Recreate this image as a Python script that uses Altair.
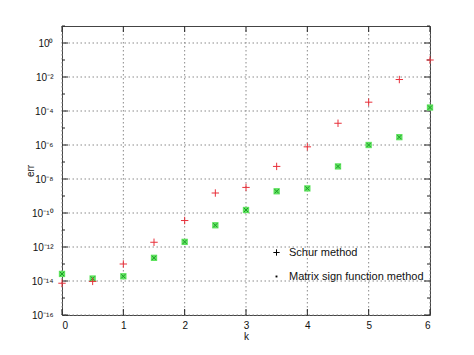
import altair as alt
import pandas as pd

k_values = [0, 0.5, 1, 1.5, 2, 2.5, 3, 3.5, 4, 4.5, 5, 5.5, 6]
err_schur = [7.4e-15, 9.5e-15, 1.0e-13, 1.9e-12, 3.6e-11, 1.5e-9, 3.2e-9,
             5.5e-8, 7.8e-7, 1.9e-5, 3.3e-4, 7.1e-3, 1.0e-1]
err_sign = [2.6e-14, 1.4e-14, 1.9e-14, 2.3e-13, 2.0e-12, 1.9e-11, 1.5e-10,
            1.9e-9, 2.8e-9, 5.5e-8, 1.0e-6, 2.9e-6, 1.6e-4]
methods = ["Schur method", "Matrix sign function method"]

x_ticks = [0, 1, 2, 3, 4, 5, 6]
y_major = [1e-16, 1e-14, 1e-12, 1e-10, 1e-8, 1e-6, 1e-4, 1e-2, 1e0]
y_minor = [1e-15, 1e-13, 1e-11, 1e-9, 1e-7, 1e-5, 1e-3, 1e-1, 1e1]
y_labels = ["10⁻¹⁶", "10⁻¹⁴", "10⁻¹²", "10⁻¹⁰", "10⁻⁸", "10⁻⁶", "10⁻⁴", "10⁻²", "10⁰"]

W, H = 368, 289
FONT = "Liberation Sans"

long = pd.DataFrame({
    "k": k_values * 2,
    "err": err_schur + err_sign,
})
schur_df = pd.DataFrame({"k": k_values, "err": err_schur})
sign_df = pd.DataFrame({"k": k_values, "err": err_sign})
leg_df = pd.DataFrame({"method": methods})

expr = ""
for v, lab in zip(y_major, y_labels):
    expr += f"datum.value < {v * 3.0} ? '{lab}' : "
expr += "''"

xs = alt.Scale(domain=[0, 6], nice=False, zero=False)
ys = alt.Scale(type="log", domain=[1e-16, 10], nice=False)

base = alt.Chart(long).mark_point(opacity=0).encode(
    x=alt.X("k:Q", scale=xs,
            axis=alt.Axis(values=x_ticks, title="k", grid=False, tickSize=0,
                          domain=False, labelPadding=5, titlePadding=1,
                          format="d")),
    y=alt.Y("err:Q", scale=ys,
            axis=alt.Axis(values=y_major, title="err", grid=False, tickSize=0,
                          domain=False, labelPadding=9, titlePadding=-4,
                          labelExpr=expr)),
)

ymaj = pd.DataFrame({"v": y_major})
ymin = pd.DataFrame({"v": y_minor})
xt = pd.DataFrame({"v": x_ticks})

grid_style = dict(color="#8a8a8a", strokeWidth=1, strokeDash=[1.5, 2.5])
grids = [
    alt.Chart(ymaj).mark_rule(**grid_style).encode(y=alt.Y("v:Q", scale=ys)),
    alt.Chart(xt).mark_rule(**grid_style).encode(x=alt.X("v:Q", scale=xs)),
]

tick_color = "#222"
ticks = []
for df, L in [(ymaj, 6), (ymin, 3)]:
    ticks.append(alt.Chart(df).mark_rule(color=tick_color, strokeWidth=1).encode(
        y=alt.Y("v:Q", scale=ys), x=alt.value(0), x2=alt.value(L)))
    ticks.append(alt.Chart(df).mark_rule(color=tick_color, strokeWidth=1).encode(
        y=alt.Y("v:Q", scale=ys), x=alt.value(W - L), x2=alt.value(W)))
ticks.append(alt.Chart(xt).mark_rule(color=tick_color, strokeWidth=1).encode(
    x=alt.X("v:Q", scale=xs), y=alt.value(H - 6), y2=alt.value(H)))
ticks.append(alt.Chart(xt).mark_rule(color=tick_color, strokeWidth=1).encode(
    x=alt.X("v:Q", scale=xs), y=alt.value(0), y2=alt.value(6)))

plus_path = "M-1,0H1M0,-1V1"
x_path = "M-0.55,-0.55L0.55,0.55M-0.55,0.55L0.55,-0.55"
star_path = "M-0.3,0H0.3M0,-0.3V0.3M-0.22,-0.22L0.22,0.22M-0.22,0.22L0.22,-0.22"

red_plus = alt.Chart(schur_df).mark_point(
    shape=plus_path, filled=False, stroke="#e8303a", strokeWidth=1, size=55, opacity=1
).encode(x=alt.X("k:Q", scale=xs), y=alt.Y("err:Q", scale=ys))

green_sq = alt.Chart(sign_df).mark_point(
    shape="square", filled=True, color="#5fe35f", size=40, opacity=1
).encode(x=alt.X("k:Q", scale=xs), y=alt.Y("err:Q", scale=ys))

green_x = alt.Chart(sign_df).mark_point(
    shape=x_path, filled=False, stroke="#1f9a2a", strokeWidth=1, size=55, opacity=1
).encode(x=alt.X("k:Q", scale=xs), y=alt.Y("err:Q", scale=ys))

legend_layer = alt.Chart(leg_df).mark_point(opacity=0, size=1).encode(
    x=alt.value(-500), y=alt.value(-500),
    shape=alt.Shape("method:N", scale=alt.Scale(domain=methods, range=[plus_path, star_path]),
                    legend=alt.Legend(title=None, orient="none", legendX=209, legendY=221,
                                      symbolStrokeColor="black", symbolFillColor="transparent",
                                      symbolStrokeWidth=1, symbolSize=40, symbolOpacity=1,
                                      labelFont=FONT, labelFontSize=11, labelColor="#111",
                                      labelOffset=7, rowPadding=12, padding=0)),
)

chart = alt.layer(base, *grids, *ticks, green_sq, green_x, red_plus, legend_layer).properties(
    width=W, height=H,
    title=alt.Title("Accuracy of Schur and matrix sign function methods, n = 150",
                    fontSize=10, fontWeight="normal", font=FONT, color="#111", offset=5),
    padding={"left": 62, "top": 26, "right": 44, "bottom": 40},
    autosize=alt.AutoSizeParams(type="none"),
    background="white",
).configure_view(
    stroke="#444", strokeWidth=1
).configure_axis(
    labelFont=FONT, labelFontSize=10, labelColor="#111",
    titleFont=FONT, titleFontSize=10, titleFontWeight="normal", titleColor="#111",
)

chart.save("out.html", embed_options={"renderer": "svg", "actions": False})
